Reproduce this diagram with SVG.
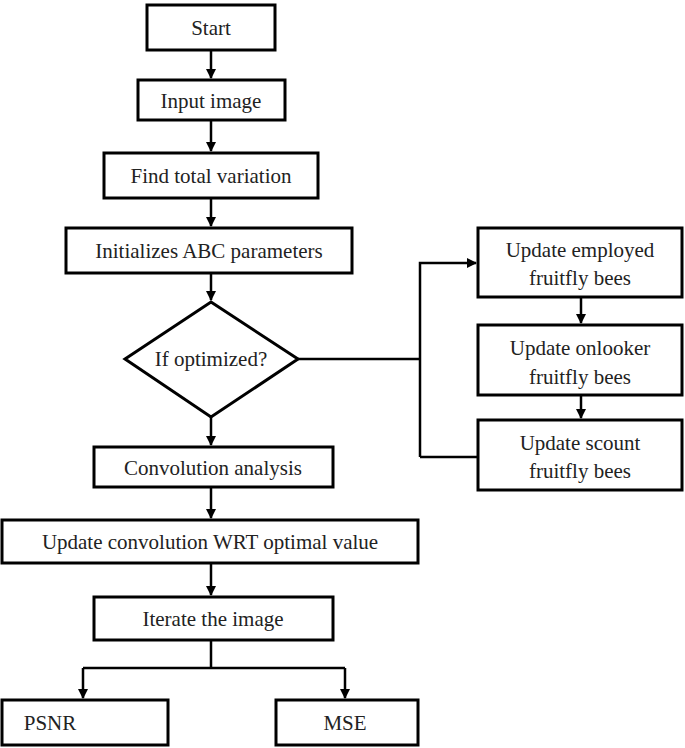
<svg xmlns="http://www.w3.org/2000/svg" width="685" height="748" viewBox="0 0 685 748">
<style>
.b{fill:#fff;stroke:#000;stroke-width:3}
text{font-family:"Liberation Serif",serif;font-size:21px;fill:#222;text-anchor:middle}
.c{fill:none;stroke:#000;stroke-width:2.5}
</style>
<defs><marker id="a" markerWidth="10" markerHeight="10" refX="9" refY="5" orient="auto" markerUnits="userSpaceOnUse"><path d="M0,0L10,5L0,10z"/></marker></defs>
<rect width="685" height="748" fill="#fff"/>
<g id="connectors" class="c">
<path d="M211,50V78" marker-end="url(#a)"/>
<path d="M211,120V151" marker-end="url(#a)"/>
<path d="M211,198V226" marker-end="url(#a)"/>
<path d="M211,273V300" marker-end="url(#a)"/>
<path d="M211,417V445" marker-end="url(#a)"/>
<path d="M211,487V518" marker-end="url(#a)"/>
<path d="M211,563V595" marker-end="url(#a)"/>
<path d="M211,640V668M83,668H345M83,668V698" marker-end="url(#a)"/>
<path d="M345,668V698" marker-end="url(#a)"/>
<path d="M298,359H420M420,457V263H476" marker-end="url(#a)"/>
<path d="M420,457H478"/>
<path d="M581,297V323" marker-end="url(#a)"/>
<path d="M581,395V418" marker-end="url(#a)"/>
</g>
<g id="start"><rect class="b" x="147" y="5" width="128" height="45"/><text x="211" y="35">Start</text></g>
<g id="input"><rect class="b" x="138" y="80" width="147" height="40"/><text x="211" y="108">Input image</text></g>
<g id="tv"><rect class="b" x="104" y="153" width="214" height="45"/><text x="211" y="183">Find total variation</text></g>
<g id="init"><rect class="b" x="66" y="228" width="286" height="45"/><text x="209" y="258">Initializes ABC parameters</text></g>
<g id="dec"><path class="b" d="M211,302L298,359L211,417L125,359z"/><text x="211" y="366">If optimized?</text></g>
<g id="conv"><rect class="b" x="94" y="447" width="239" height="40"/><text x="213" y="475">Convolution analysis</text></g>
<g id="upd"><rect class="b" x="2" y="520" width="416" height="43"/><text x="210" y="549">Update convolution WRT optimal value</text></g>
<g id="iter"><rect class="b" x="94" y="597" width="239" height="43"/><text x="213" y="626">Iterate the image</text></g>
<g id="psnr"><rect class="b" x="2" y="700" width="166" height="45"/><text x="50" y="730">PSNR</text></g>
<g id="mse"><rect class="b" x="276" y="700" width="142" height="45"/><text x="345" y="730">MSE</text></g>
<g id="emp"><rect class="b" x="478" y="228" width="204" height="69"/><text x="580" y="257">Update employed</text><text x="580" y="285">fruitfly bees</text></g>
<g id="onl"><rect class="b" x="478" y="325" width="204" height="70"/><text x="580" y="355">Update onlooker</text><text x="580" y="384">fruitfly bees</text></g>
<g id="sco"><rect class="b" x="478" y="420" width="204" height="70"/><text x="580" y="450">Update scount</text><text x="580" y="478">fruitfly bees</text></g>
</svg>
